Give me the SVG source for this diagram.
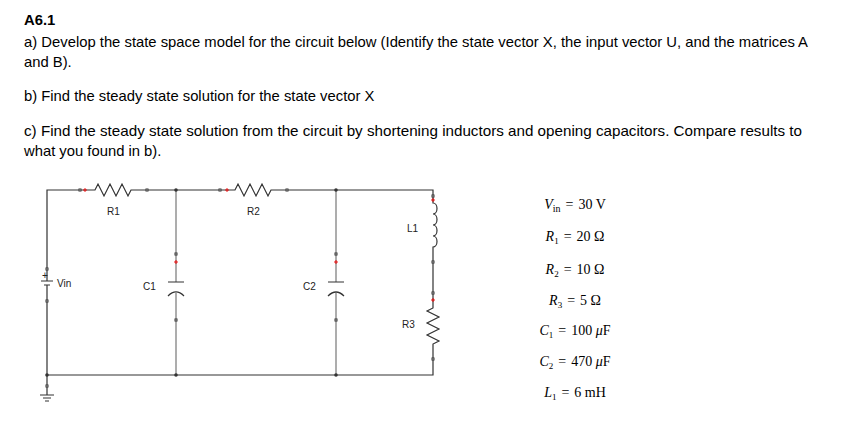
<svg xmlns="http://www.w3.org/2000/svg" width="860" height="426" viewBox="0 0 860 426">
<style>
.t{font-family:"Liberation Sans",Arial,sans-serif;font-size:14.8px;fill:#000}
.w{stroke:#333;stroke-width:1.2;fill:none}
.g{stroke:#999;stroke-width:1.6;fill:none}
.lb{font-family:"Liberation Sans",Arial,sans-serif;font-size:10px;fill:#222}
.eq{font-family:"Liberation Serif","Times New Roman",serif;font-size:14px;fill:#000;white-space:pre}
.pin{fill:#fff;stroke:#333;stroke-width:1}
.plus{stroke:#e00;stroke-width:0.9}
</style>
<rect width="860" height="426" fill="#fff"/>
<g id="text">
<text class="t" x="24" y="25" font-weight="bold">A6.1</text>
<text class="t" x="24" y="47" textLength="784" lengthAdjust="spacingAndGlyphs">a) Develop the state space model for the circuit below (Identify the state vector X, the input vector U, and the matrices A</text>
<text class="t" x="24" y="67">and B).</text>
<text class="t" x="24" y="101">b) Find the steady state solution for the state vector X</text>
<text class="t" x="24" y="136" textLength="778" lengthAdjust="spacingAndGlyphs">c) Find the steady state solution from the circuit by shortening inductors and opening capacitors. Compare results to</text>
<text class="t" x="24" y="156">what you found in b).</text>
</g>
<g id="connectors">
<path class="w" d="M47 269 V190 H80 M147 190 H220 M287 190 H433 V196 M433 262 V293 M433 359 V375 H47 V301 M47 375 V386"/>
<path class="g" d="M176 190 V254 M176 320 V375 M336 190 V254 M336 320 V375"/>
<circle cx="176" cy="190" r="1.8" fill="#333"/><circle cx="336" cy="190" r="1.8" fill="#333"/>
<circle cx="47" cy="375" r="1.8" fill="#333"/><circle cx="176" cy="375" r="1.8" fill="#333"/><circle cx="336" cy="375" r="1.8" fill="#333"/>
</g>
<g id="R1"><path class="w" d="M80 190 H95 l3 -6 l6 12 l6 -12 l6 12 l6 -12 l6 12 l3 -6 H147"/><rect class="pin" x="79" y="189" width="2" height="2"/><rect class="pin" x="146" y="189" width="2" height="2"/><path class="plus" d="M85 188 v4 M83 190 h4"/><text class="lb" x="107" y="215">R1</text></g>
<g id="R2"><path class="w" d="M220 190 H235 l3 -6 l6 12 l6 -12 l6 12 l6 -12 l6 12 l3 -6 H287"/><rect class="pin" x="219" y="189" width="2" height="2"/><rect class="pin" x="286" y="189" width="2" height="2"/><path class="plus" d="M227 188 v4 M225 190 h4"/><text class="lb" x="247" y="215">R2</text></g>
<g id="Vin"><path class="w" d="M47 269 V281 M41 281 H53 M44 285 H50 M47 285 V301"/><rect class="pin" x="46" y="268" width="2" height="2"/><rect class="pin" x="46" y="300" width="2" height="2"/><text class="lb" x="57" y="287">Vin</text><text class="lb" x="42" y="279" font-size="6">+</text></g>
<g id="C1"><path class="g" d="M176 254 V282 M176 293 V320"/><path class="w" d="M168 282 H184 M168 296 Q176 288 184 296"/><rect class="pin" x="175" y="253" width="2" height="2"/><rect class="pin" x="175" y="319" width="2" height="2"/><path class="plus" d="M176 260 v4 M174 262 h4"/><text class="lb" x="143" y="290">C1</text></g>
<g id="C2"><path class="g" d="M336 254 V282 M336 293 V320"/><path class="w" d="M328 282 H344 M328 296 Q336 288 344 296"/><rect class="pin" x="335" y="253" width="2" height="2"/><rect class="pin" x="335" y="319" width="2" height="2"/><path class="plus" d="M336 260 v4 M334 262 h4"/><text class="lb" x="303" y="290">C2</text></g>
<g id="L1"><path class="w" d="M433 196 V203 a4 5.5 0 1 1 0 11 a4 5.5 0 1 1 0 11 a4 5.5 0 1 1 0 11 a4 5.5 0 1 1 0 11 V262"/><rect class="pin" x="432" y="195" width="2" height="2"/><rect class="pin" x="432" y="261" width="2" height="2"/><path class="plus" d="M433 198 v4 M431 200 h4"/><text class="lb" x="407" y="232">L1</text></g>
<g id="R3"><path class="w" d="M433 293 V308 l-6 3 l12 6 l-12 6 l12 6 l-12 6 l12 6 l-6 3 V359"/><rect class="pin" x="432" y="292" width="2" height="2"/><rect class="pin" x="432" y="358" width="2" height="2"/><path class="plus" d="M433 298 v4 M431 300 h4"/><text class="lb" x="402" y="328">R3</text></g>
<g id="GND"><path class="w" d="M47 386 V395 M40 395 H54 M43 398 H51 M45 401 H49"/><rect class="pin" x="46" y="385" width="2" height="2"/></g>
<g id="values" class="eq" text-anchor="middle">
<text x="575" y="209"><tspan font-style="italic">V</tspan><tspan font-size="10" dy="3">in</tspan><tspan dy="-3" dx="5">=</tspan><tspan dx="5">30 V</tspan></text>
<text x="575" y="241"><tspan font-style="italic">R</tspan><tspan font-size="9" dy="3">1</tspan><tspan dy="-3" dx="5">=</tspan><tspan dx="5">20 Ω</tspan></text>
<text x="575" y="274"><tspan font-style="italic">R</tspan><tspan font-size="9" dy="3">2</tspan><tspan dy="-3" dx="5">=</tspan><tspan dx="5">10 Ω</tspan></text>
<text x="575" y="305"><tspan font-style="italic">R</tspan><tspan font-size="9" dy="3">3</tspan><tspan dy="-3" dx="5">=</tspan><tspan dx="5">5 Ω</tspan></text>
<text x="575" y="335"><tspan font-style="italic">C</tspan><tspan font-size="9" dy="3">1</tspan><tspan dy="-3" dx="5">=</tspan><tspan dx="5">100 </tspan><tspan font-style="italic">μ</tspan><tspan>F</tspan></text>
<text x="575" y="366"><tspan font-style="italic">C</tspan><tspan font-size="9" dy="3">2</tspan><tspan dy="-3" dx="5">=</tspan><tspan dx="5">470 </tspan><tspan font-style="italic">μ</tspan><tspan>F</tspan></text>
<text x="575" y="397"><tspan font-style="italic">L</tspan><tspan font-size="9" dy="3">1</tspan><tspan dy="-3" dx="5">=</tspan><tspan dx="5">6 mH</tspan></text>
</g>
</svg>
